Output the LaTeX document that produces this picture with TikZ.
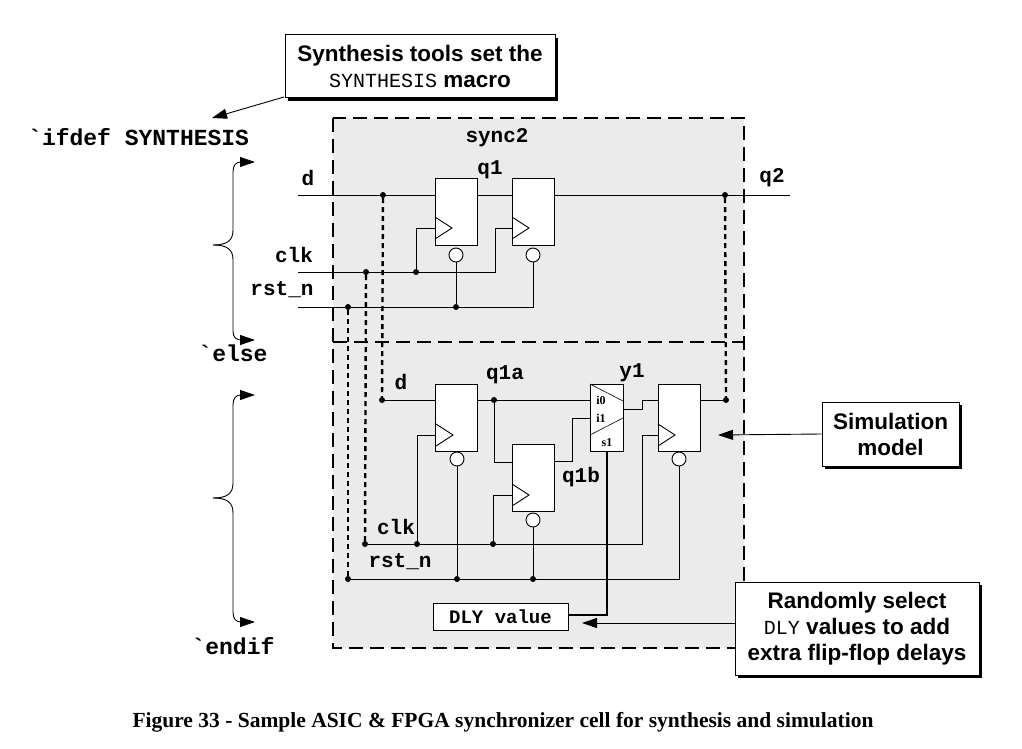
\documentclass[tikz,border=0pt]{standalone}
\usepackage{fontspec}
\setmainfont{Liberation Sans}
\newfontfamily\mono{Liberation Mono}
\newfontfamily\tms{Liberation Serif}
\usetikzlibrary{arrows.meta}
\begin{document}
\begin{tikzpicture}[x=1pt,y=-1pt,
  wire/.style={line width=0.9pt},
  dots/.style={line width=2.4pt,dash pattern=on 5pt off 4pt},
  ff/.style={draw,fill=white,line width=0.9pt,minimum width=42pt,minimum height=67pt,inner sep=0pt},
  bub/.style={draw,fill=white,circle,line width=0.9pt,minimum size=14pt,inner sep=0pt},
  jd/.style={circle,fill=black,minimum size=6pt,inner sep=0pt},
  lbl/.style={font=\mono\bfseries\fontsize{21}{24}\selectfont,inner sep=0pt},
  dir/.style={font=\mono\bfseries\fontsize{23}{26}\selectfont,inner sep=0pt},
  call/.style={draw,fill=white,line width=1pt,font=\bfseries\fontsize{22.5}{26}\selectfont,align=center,inner sep=0pt},
  tip/.style={-{Triangle[length=15pt,width=10pt]}},
  arr/.style={line width=0.9pt,tip},
]
\useasboundingbox (0,0) rectangle (1022,749);
% dashed box
\fill[black!8] (333,118) rectangle (744,648);
\draw[line width=2.5pt,dash pattern=on 14pt off 7pt] (333,118) rectangle (744,648);
\draw[line width=2.5pt,dash pattern=on 14pt off 7pt] (333,342) -- (744,342);

% directives
\node[dir,anchor=west] (ifd) at (28,137) {`ifdef SYNTHESIS};
\node[dir] (els) at (233,353) {`else};
\node[dir] (endf) at (233,646) {`endif};
\coordinate (ifdtip) at (212,118);
% braces
\draw[arr] (213,245) .. controls (228,245) and (233,240) .. (233,230) -- (233,172) .. controls (233,165) and (236,162) .. (241,162) -- (255,162);
\draw[arr] (213,245) .. controls (228,245) and (233,250) .. (233,260) -- (233,331) .. controls (233,337) and (236,340) .. (241,340) -- (255,340);
\draw[arr] (213,498) .. controls (228,498) and (233,493) .. (233,483) -- (233,405) .. controls (233,398) and (236,395) .. (241,395) -- (255,395);
\draw[arr] (213,498) .. controls (228,498) and (233,503) .. (233,513) -- (233,612) .. controls (233,619) and (236,622) .. (241,622) -- (255,622);

% ===== top section =====
\node[lbl] (sync) at (497,138) {sync2};
\node[lbl] (lq1) at (490,170) {q1};
\node[lbl] (ld) at (308,178) {d};
\node[lbl] (lq2) at (772,178) {q2};
\node[lbl] (lclk) at (294,255) {clk};
\node[lbl] (lrst) at (282,290) {rst\_n};
\node[ff] (f1) at (456,211.5) {};
\node[ff] (f2) at (533.5,211.5) {};
\draw[wire] (435,217)--(452,228)--(435,239);
\draw[wire] (512,217)--(529,228)--(512,239);
\node[bub] (b1) at (456,255) {};
\node[bub] (b2) at (533,255) {};
\coordinate (din) at (298,195);
\coordinate (qout) at (790,195);
\node[jd] (jd1) at (383,195) {};
\node[jd] (jq2) at (725,195) {};
\draw[wire] (din) -- (jd1) -- (f1.west |- jd1);
\draw[wire] (f1.east |- jd1) -- (f2.west |- jd1);
\draw[wire] (f2.east |- jd1) -- (jq2) -- (qout);
\coordinate (cin) at (298,272);
\node[jd] (jc0) at (366,272) {};
\node[jd] (jc1) at (416,272) {};
\draw[wire] (cin) -- (jc0) -- (jc1) -- (495,272) -- (495,228) -- (512,228);
\draw[wire] (jc1) -- (416,228) -- (435,228);
\coordinate (rin) at (298,307);
\node[jd] (jr0) at (348,307) {};
\node[jd] (jr1) at (456,307) {};
\draw[wire] (rin) -- (jr0) -- (jr1) -- (533,307) -- (b2.south);
\draw[wire] (jr1) -- (b1.south);

% ===== lower section =====
\node[lbl] (ld2) at (401,382) {d};
\node[lbl] (lq1a) at (505,375) {q1a};
\node[lbl] (ly1) at (632,373) {y1};
\node[lbl] (lq1b) at (581,477) {q1b};
\node[lbl] (lclk2) at (396,527) {clk};
\node[lbl] (lrst2) at (400,562) {rst\_n};
\node[ff] (f3) at (456.5,417.5) {};
\node[ff] (f4) at (533,477.5) {};
\node[ff] (f5) at (679.5,417.5) {};
\draw[wire] (436,424)--(453,435)--(436,446);
\draw[wire] (512,484)--(529,495)--(512,506);
\draw[wire] (658,424)--(675,435)--(658,446);
\node[bub] (b3) at (457,459) {};
\node[bub] (b4) at (533,520) {};
\node[bub] (b5) at (679,459) {};
% mux
\node[draw,fill=white,line width=0.9pt,minimum width=33pt,minimum height=67pt,inner sep=0pt] (mux) at (606.5,417.5) {};
\draw[line width=0.6pt] (590,384) -- (623,401);
\draw[line width=0.6pt] (590,435) -- (623,418);
\node[font=\tms\bfseries\fontsize{12}{12}\selectfont,inner sep=0pt] (i0) at (601,400) {i0};
\node[font=\tms\bfseries\fontsize{12}{12}\selectfont,inner sep=0pt] (i1) at (601,418) {i1};
\node[font=\tms\bfseries\fontsize{12}{12}\selectfont,inner sep=0pt] (s1) at (607,443) {s1};

\node[jd] (jd2) at (382,400) {};
\node[jd] (jq1a) at (494,400) {};
\node[jd] (jy) at (726,400) {};
\draw[wire] (jd2) -- (f3.west |- jd2);
\draw[wire] (f3.east |- jq1a) -- (jq1a) -- (mux.west |- jq1a);
\draw[wire] (jq1a) -- (494,462) -- (f4.west |- 0,462);
\draw[wire] (f4.east |- 0,461) -- (572,461) -- (572,418) -- (590,418);
\draw[wire] (mux.east |- 0,409) -- (642,409) -- (642,400) -- (f5.west |- 0,400);
\draw[wire] (f5.east |- jy) -- (jy);
% clk lower
\node[jd] (jc2) at (365,544) {};
\node[jd] (jc3) at (417,544) {};
\node[jd] (jc4) at (493,544) {};
\draw[wire] (jc2) -- (jc3) -- (jc4) -- (642,544) -- (642,435) -- (658,435);
\draw[wire] (jc3) -- (417,435) -- (436,435);
\draw[wire] (jc4) -- (493,495) -- (512,495);
% rst lower
\node[jd] (jr2) at (348,579) {};
\node[jd] (jr3) at (457,579) {};
\node[jd] (jr4) at (533,579) {};
\draw[wire] (jr2) -- (jr3) -- (jr4) -- (679,579) -- (b5.south);
\draw[wire] (jr3) -- (b3.south);
\draw[wire] (jr4) -- (b4.south);
% DLY
\node[draw,fill=white,line width=0.9pt,minimum width=135pt,minimum height=27pt,inner sep=0pt,font=\mono\bfseries\fontsize{19}{22}\selectfont] (dly) at (500.5,616.5) {DLY value};
\draw[line width=2pt] (607,451) -- (607,615) -- (568,615);

% dotted interconnects
\draw[dots] (jd1) -- (jd2);
\draw[dots] (jc0) -- (jc2);
\draw[dots] (jr0) -- (jr2);
\draw[dots] (jq2) -- (jy);

% callouts
\fill[black] (288,38) rectangle (558,101);
\node[call,minimum width=270pt,minimum height=63pt] (c1) at (420,66.5) {Synthesis tools set the\\{\mono\mdseries\fontsize{20}{22}\selectfont SYNTHESIS} macro};
\coordinate (c1a) at (284,97);
\draw[arr] (c1a) -- (ifdtip);
\fill[black] (825,405) rectangle (962,469);
\node[call,minimum width=137pt,minimum height=64pt] (c2) at (890.5,434) {Simulation\\model};
\coordinate (t2) at (718,435);
\draw[arr] (c2.west) -- (t2);
\fill[black] (738,585) rectangle (982,678);
\node[call,minimum width=244pt,minimum height=93pt] (c3) at (857,628.5) {Randomly select\\{\mono\mdseries\fontsize{20}{22}\selectfont DLY} values to add\\extra flip-flop delays};
\coordinate (c3a) at (736,623);
\coordinate (t3) at (582,623);
\draw[arr] (c3a) -- (t3);

% caption
\node[font=\tms\bfseries\fontsize{21.5}{24}\selectfont,inner sep=0pt] (cap) at (503,722) {Figure 33 - Sample ASIC \& FPGA synchronizer cell for synthesis and simulation};
\end{tikzpicture}
\end{document}
